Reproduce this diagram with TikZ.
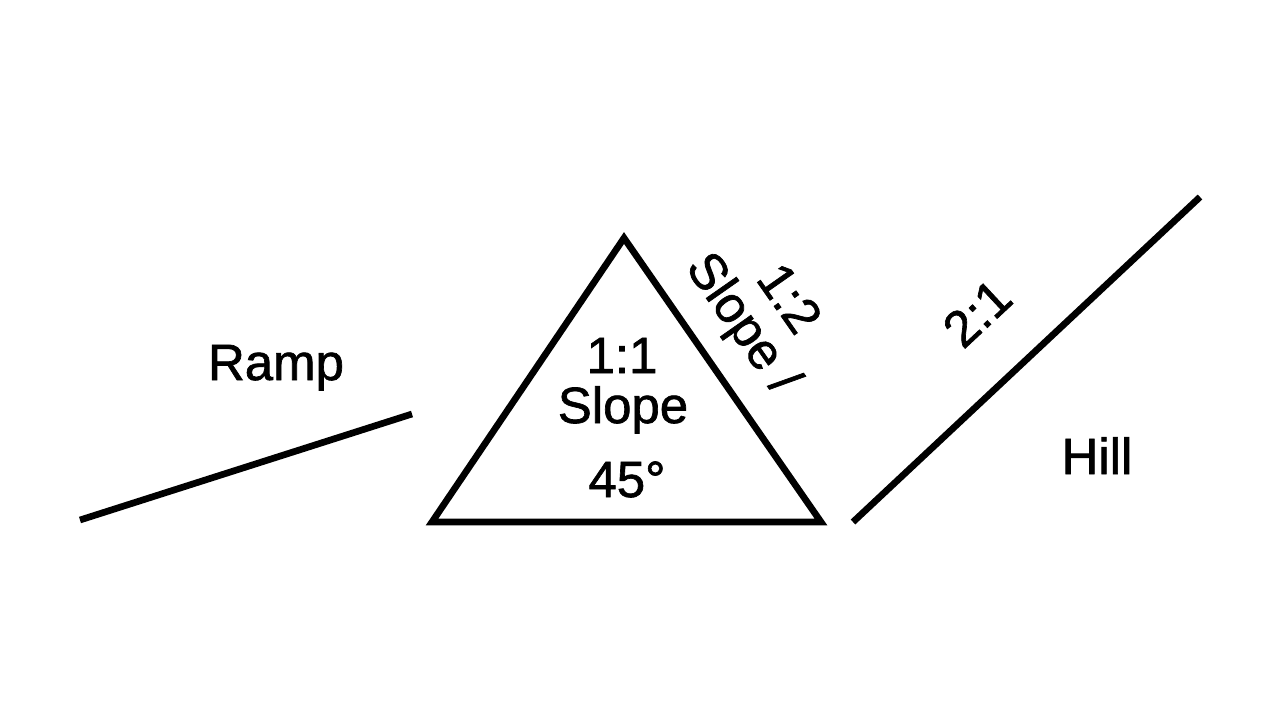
\documentclass[tikz,border=0pt]{standalone}
\usepackage{fontspec}
\setmainfont{Liberation Sans}
\newfontfamily\labelfont[FakeBold=1.3]{Liberation Sans}
\tikzset{
	slopeline/.style={line width=3.8pt},
	slopelabel/.style={font=\labelfont\fontsize{29}{34}\selectfont, inner sep=0pt}
}
\begin{document}
\begin{tikzpicture}[x=0.02cm,y=-0.02cm]
	\useasboundingbox (0,0) rectangle (1280,720);
	% ramp
	\coordinate (r1) at (80,520);
	\coordinate (r2) at (412,414);
	\draw[slopeline] (r1) -- (r2);
	\node[slopelabel, anchor=base] (ramp) at (276,380) {Ramp};
	% triangle
	\coordinate (t1) at (432,522);
	\coordinate (t2) at (624,238);
	\coordinate (t3) at (821,522);
	\draw[slopeline, line join=miter] (t1) -- (t2) -- (t3) -- cycle;
	\node[slopelabel, anchor=base] (ratioA) at (622,373) {1:1};
	\node[slopelabel, anchor=base] (slopeA) at (623,423) {Slope};
	\node[slopelabel, anchor=base] (angleA) at (627,497) {45°};
	\node[slopelabel, rotate=-55] (slopeB) at (741,325) {Slope /};
	\node[slopelabel, rotate=-55] (ratioB) at (790,298) {1:2};
	% hill
	\coordinate (h1) at (853,522);
	\coordinate (h2) at (1200,197);
	\draw[slopeline] (h1) -- (h2);
	\node[slopelabel, rotate=43] (ratioC) at (977,313) {2:1};
	\node[slopelabel, anchor=base] (hill) at (1097,474) {Hill};
\end{tikzpicture}
\end{document}
